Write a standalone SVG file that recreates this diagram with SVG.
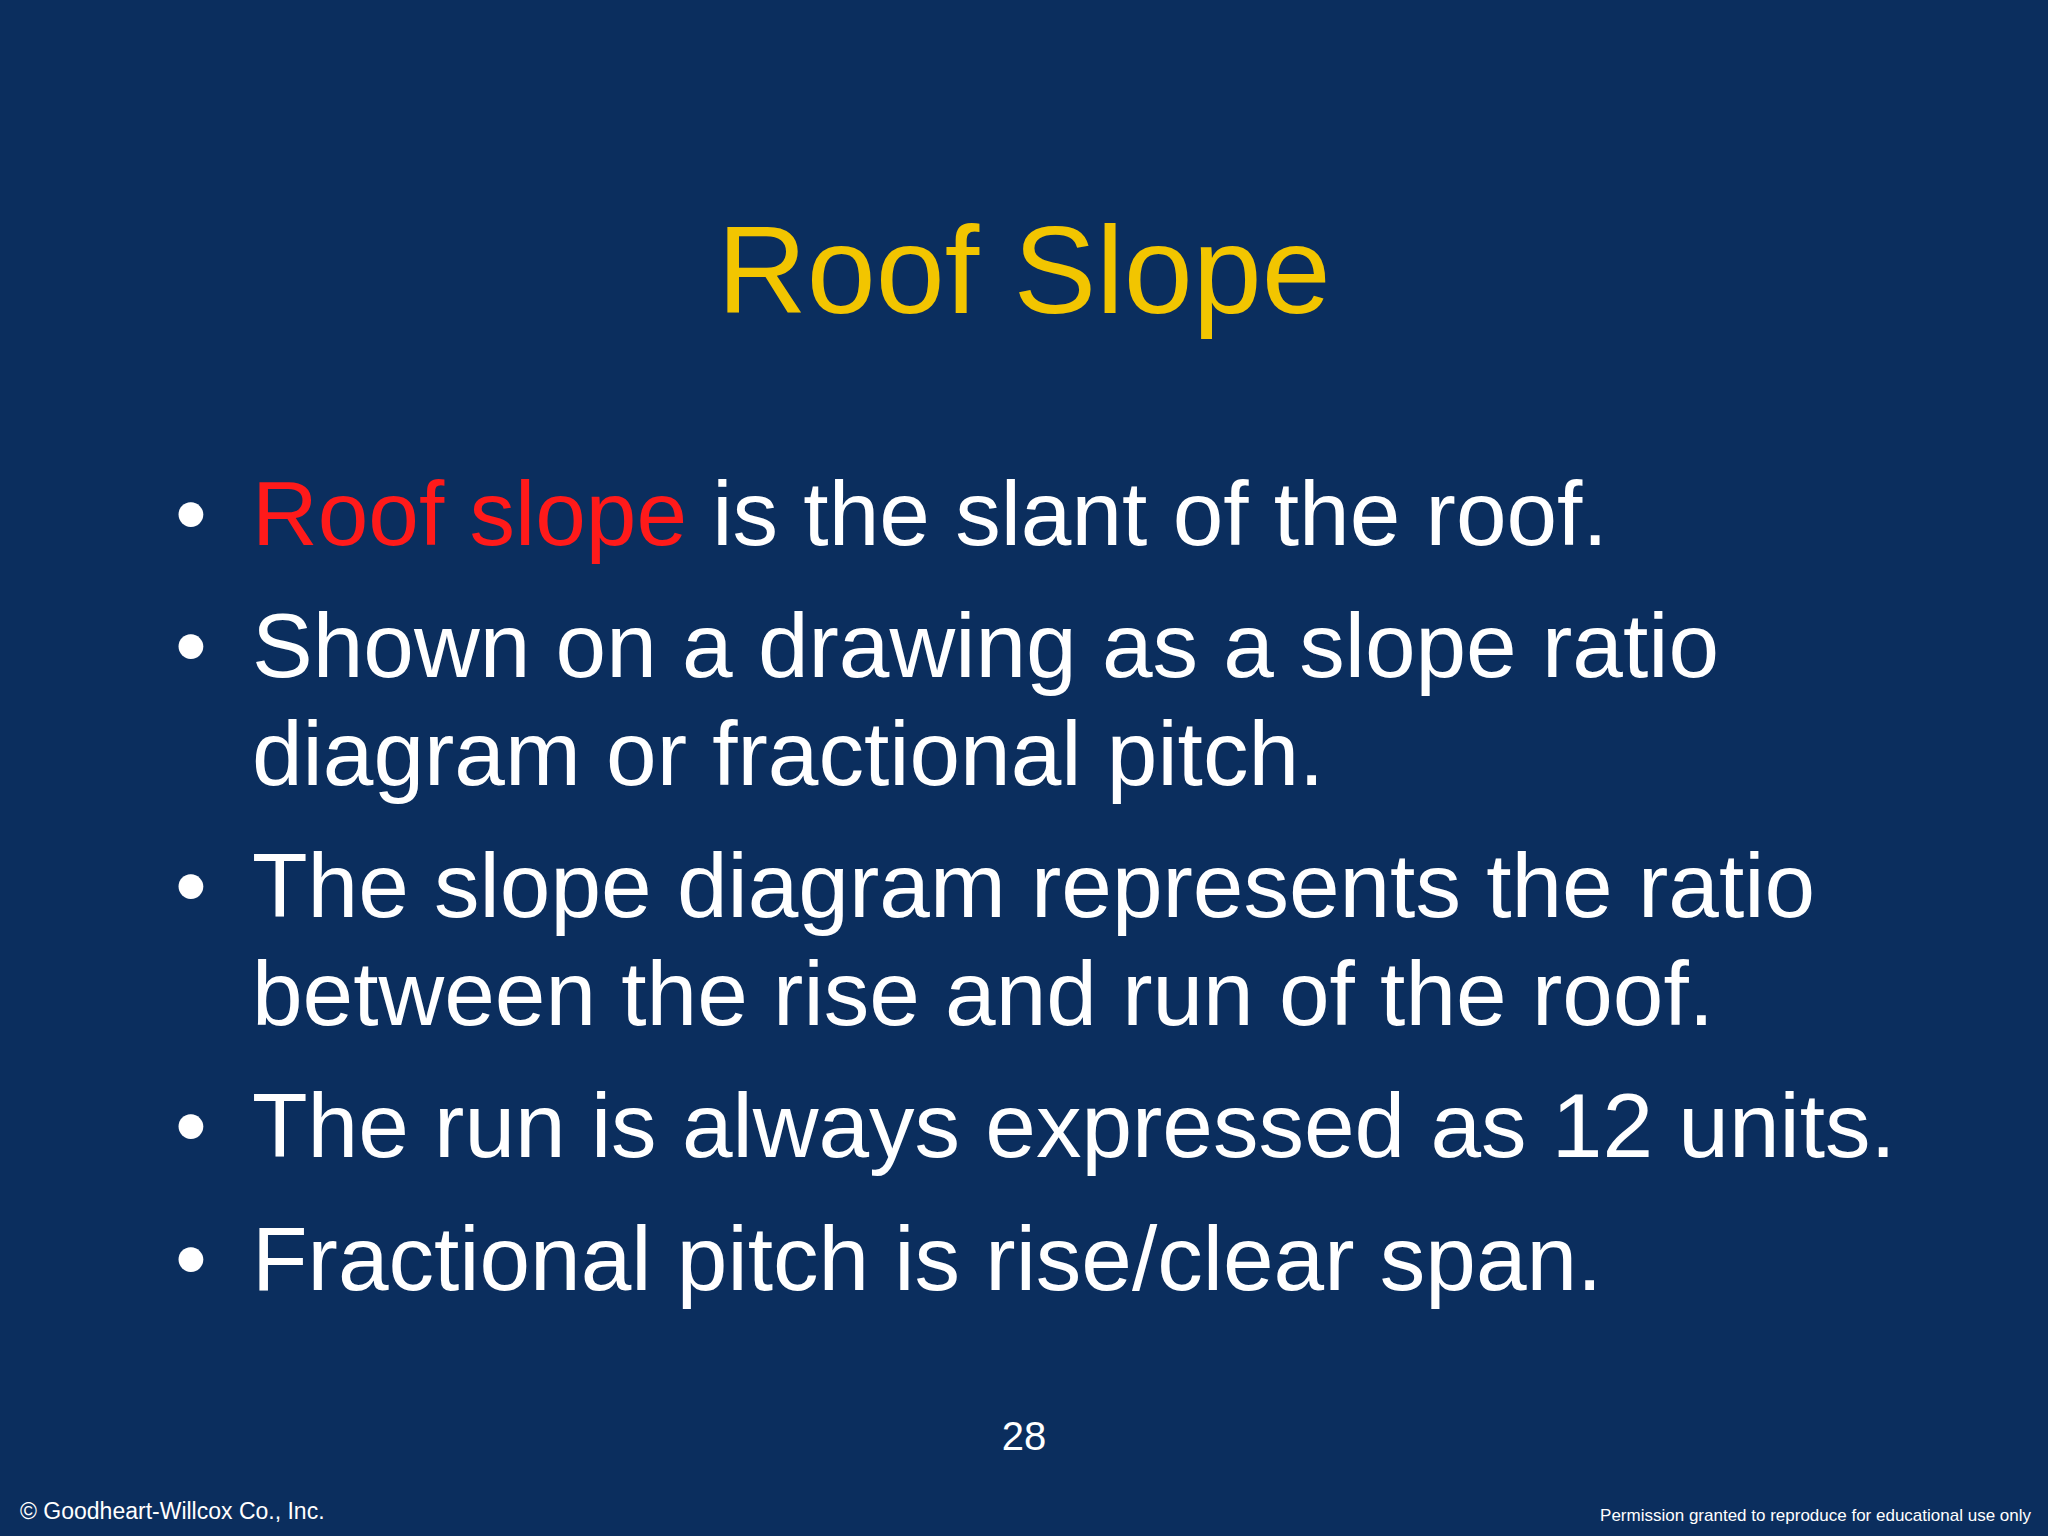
<svg xmlns="http://www.w3.org/2000/svg" width="2048" height="1536" viewBox="0 0 2048 1536">
<style>
text{font-family:"Liberation Sans",Arial,sans-serif;fill:#ffffff}
.b{font-size:91px}
</style>
<rect width="2048" height="1536" fill="#0b2e5e"/>
<text x="1024" y="313" font-size="124" text-anchor="middle" style="fill:#f2c500">Roof Slope</text>
<g class="b">
<text x="175" y="545">•</text><text x="252" y="545"><tspan style="fill:#ff1a1a">Roof slope</tspan> is the slant of the roof.</text>
<text x="175" y="677">•</text><text x="252" y="677">Shown on a drawing as a slope ratio</text>
<text x="252" y="785">diagram or fractional pitch.</text>
<text x="175" y="917">•</text><text x="252" y="917">The slope diagram represents the ratio</text>
<text x="252" y="1025">between the rise and run of the roof.</text>
<text x="175" y="1157">•</text><text x="252" y="1157">The run is always expressed as 12 units.</text>
<text x="175" y="1290">•</text><text x="252" y="1290">Fractional pitch is rise/clear span.</text>
</g>
<text x="1024" y="1450" font-size="40" text-anchor="middle">28</text>
<text x="20" y="1519" font-size="23">© Goodheart-Willcox Co., Inc.</text>
<text x="2031" y="1521" font-size="17" text-anchor="end">Permission granted to reproduce for educational use only</text>
</svg>
